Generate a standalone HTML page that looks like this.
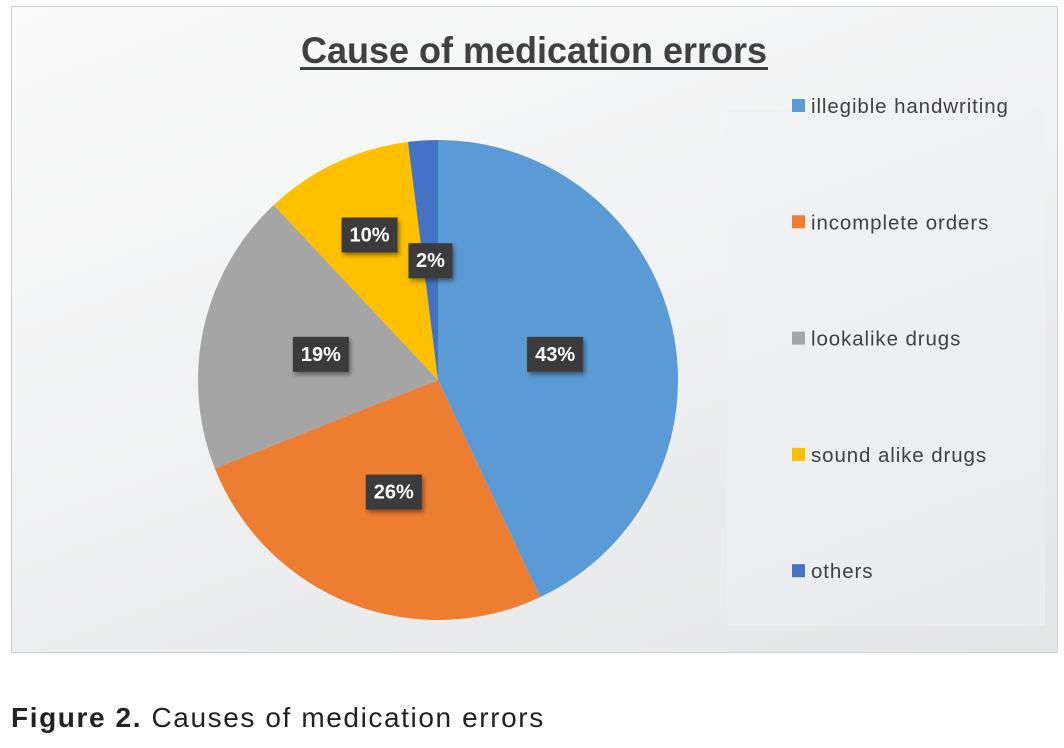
<!DOCTYPE html>
<html><head><meta charset="utf-8"><style>
body{margin:0;width:1064px;height:748px;background:#fff;overflow:hidden;font-family:"Liberation Sans",sans-serif;}
#frame{position:absolute;left:11px;top:6px;width:1045px;height:645px;border:1px solid #cfcfcf;background:linear-gradient(160deg,#fbfbfb 0%,#f1f2f3 45%,#e4e5e6 100%);}
#caption{position:absolute;left:11px;top:702px;font-size:28px;letter-spacing:1.6px;color:#222;}
</style></head><body>
<div id="frame"></div>
<svg width="1064" height="748" style="position:absolute;left:0;top:0">
<defs><filter id="sh" x="-20%" y="-20%" width="150%" height="160%"><feDropShadow dx="2" dy="3" stdDeviation="2" flood-color="#000" flood-opacity="0.4"/></filter></defs>
<text x="534" y="63" text-anchor="middle" font-size="37" font-weight="bold" fill="#404040" textLength="466" lengthAdjust="spacingAndGlyphs">Cause of medication errors</text>
<rect x="300" y="67" width="468" height="3" fill="#404040"/>
<rect x="727" y="110" width="318" height="516" fill="#eef0f1" opacity="0.6"/>
<g id="slices"></g><g id="labels"></g><g id="legend"></g>
</svg>
<div id="caption"><b>Figure 2.</b> Causes of medication errors</div>
<script>
const categories=["illegible handwriting","incomplete orders","lookalike drugs","sound alike drugs","others"];
const values=[43,26,19,10,2];
const colors=["#5b9bd5","#ed7d31","#a5a5a5","#ffc000","#4472c4"];
const cx=438,cy=380,R=240,NS="http://www.w3.org/2000/svg";
const total=values.reduce((a,b)=>a+b,0);
const pt=(f,r)=>[cx+r*Math.sin(f*2*Math.PI),cy-r*Math.cos(f*2*Math.PI)];
let acc=0;
const gS=document.getElementById('slices'),gL=document.getElementById('labels'),gG=document.getElementById('legend');
values.forEach((v,i)=>{
 const f0=acc/total,f1=(acc+v)/total;acc+=v;
 const [x0,y0]=pt(f0,R),[x1,y1]=pt(f1,R);
 const p=document.createElementNS(NS,'path');
 p.setAttribute('d',`M${cx},${cy}L${x0},${y0}A${R},${R} 0 ${f1-f0>0.5?1:0} 1 ${x1},${y1}Z`);
 p.setAttribute('fill',colors[i]);
 
 
 gS.appendChild(p);
 const fm=(f0+f1)/2;const lr=(v/total>0.05&&v/total<0.15)?R*0.67:R*0.5;
 const [lx,ly]=pt(fm,lr);
 const g=document.createElementNS(NS,'g');
 
 
 const txt=Math.round(v/total*100)+'%';
 const w=txt.length>2?56:44;
 g.innerHTML=`<rect x="${lx-w/2}" y="${ly-17}" width="${w}" height="35" fill="#3a3a3a" filter="url(#sh)"/><text x="${lx}" y="${ly+7}" text-anchor="middle" font-size="20" font-weight="bold" fill="#fff">${txt}</text>`;
 gL.appendChild(g);
 const ly2=106+i*116.3;
 const e=document.createElementNS(NS,'g');
 
 
 e.innerHTML=`<rect x="792" y="${ly2-7}" width="13" height="13" fill="${colors[i]}"/><text x="811" y="${ly2+7}" font-size="20.5" letter-spacing="0.9" fill="#404040">${categories[i]}</text>`;
 gG.appendChild(e);
});
</script>
</body></html>
